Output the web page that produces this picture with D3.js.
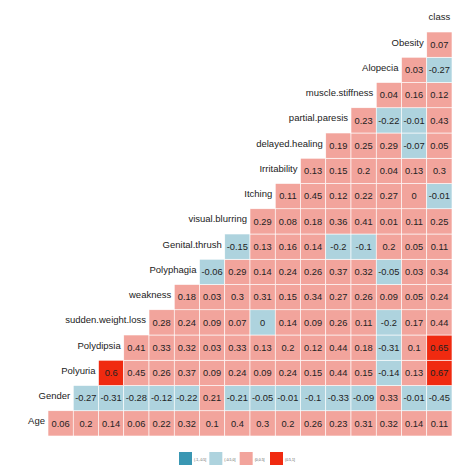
<!DOCTYPE html>
<html><head><meta charset="utf-8">
<script src="https://cdn.jsdelivr.net/npm/d3@7"></script>
<style>body{margin:0;background:#fff}</style></head>
<body><svg id="c" width="474" height="474"></svg>
<script>
const variables = ["Age","Gender","Polyuria","Polydipsia","sudden.weight.loss","weakness","Polyphagia","Genital.thrush","visual.blurring","Itching","Irritability","delayed.healing","partial.paresis","muscle.stiffness","Alopecia","Obesity","class"];
const rowValues = [
 [0.06,0.2,0.14,0.06,0.22,0.32,0.1,0.4,0.3,0.2,0.26,0.23,0.31,0.32,0.14,0.11],
 [-0.27,-0.31,-0.28,-0.12,-0.22,0.21,-0.21,-0.05,-0.01,-0.1,-0.33,-0.09,0.33,-0.01,-0.45],
 [0.6,0.45,0.26,0.37,0.09,0.24,0.09,0.24,0.15,0.44,0.15,-0.14,0.13,0.67],
 [0.41,0.33,0.32,0.03,0.33,0.13,0.2,0.12,0.44,0.18,-0.31,0.1,0.65],
 [0.28,0.24,0.09,0.07,-0.004,0.14,0.09,0.26,0.11,-0.2,0.17,0.44],
 [0.18,0.03,0.3,0.31,0.15,0.34,0.27,0.26,0.09,0.05,0.24],
 [-0.06,0.29,0.14,0.24,0.26,0.37,0.32,-0.05,0.03,0.34],
 [-0.15,0.13,0.16,0.14,-0.2,-0.1,0.2,0.05,0.11],
 [0.29,0.08,0.18,0.36,0.41,0.01,0.11,0.25],
 [0.11,0.45,0.12,0.22,0.27,0.004,-0.01],
 [0.13,0.15,0.2,0.04,0.13,0.3],
 [0.19,0.25,0.29,-0.07,0.05],
 [0.23,-0.22,-0.01,0.43],
 [0.04,0.16,0.12],
 [0.03,-0.27],
 [0.07]
];
const legendLabels = ["(-1,-0.5]","(-0.5,0]","(0,0.5]","(0.5,1]"];
const legendColors = ["#3a97b3","#aed3de","#f2a49c","#f02a10"];

const svg = d3.select("#c");
const cols = variables.slice(1);
const rows = variables.slice(0,16);
const x = d3.scaleBand().domain(cols).range([48,452]);
const y = d3.scaleBand().domain(rows.slice().reverse()).range([32,436]);
const color = d3.scaleThreshold().domain([-0.5,0,0.5]).range(legendColors);
const cells = [];
rowValues.forEach((vals,k)=>vals.forEach((v,i)=>cells.push({r:rows[k],c:variables[k+1+i],v})));
svg.selectAll("rect.cell").data(cells).join("rect")
  .attr("x",d=>x(d.c)).attr("y",d=>y(d.r)).attr("width",x.bandwidth()).attr("height",y.bandwidth())
  .attr("fill",d=>color(d.v)).attr("stroke","#fff").attr("stroke-width",0.6);
svg.selectAll("text.val").data(cells).join("text")
  .attr("x",d=>x(d.c)+x.bandwidth()/2).attr("y",d=>y(d.r)+y.bandwidth()/2+3.3)
  .attr("text-anchor","middle").attr("font-family","Liberation Sans, Arial").attr("font-size",9.3)
  .attr("fill","#222").text(d=>{const r=Math.round(d.v*100)/100; return r===0?"0":String(r);});
// diagonal labels
svg.selectAll("text.lab").data(rows).join("text")
  .attr("x",(d,k)=>x(variables[k+1])-3).attr("y",d=>y(d)+y.bandwidth()/2+1)
  .attr("text-anchor","end").attr("font-family","Liberation Sans, Arial").attr("font-size",9.5)
  .attr("fill","#222").text(d=>d);
svg.append("text").attr("x",x("class")+x.bandwidth()/2).attr("y",20).attr("text-anchor","middle")
  .attr("font-family","Liberation Sans, Arial").attr("font-size",9.5).attr("fill","#222").text("class");
// legend
const lg = svg.append("g");
const lx = d3.scaleLinear().domain([0,3]).range([179,270]);
legendLabels.forEach((l,i)=>{
  lg.append("rect").attr("x",lx(i)).attr("y",452).attr("width",13).attr("height",13).attr("fill",legendColors[i]);
  lg.append("text").attr("x",lx(i)+15).attr("y",460.5).attr("font-family","Liberation Sans, Arial")
    .attr("font-size",3.5).attr("fill","#555").text(l);
});
</script></body></html>
